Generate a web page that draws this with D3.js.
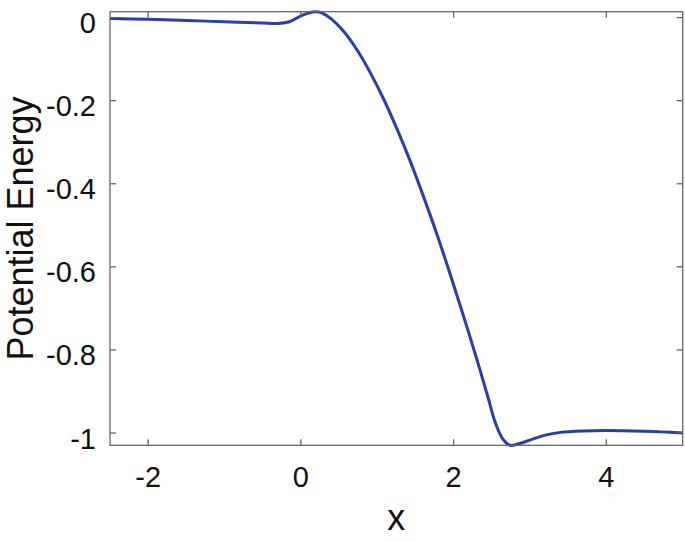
<!DOCTYPE html>
<html>
<head>
<meta charset="UTF-8">
<title>Potential Energy</title>
<script src="https://d3js.org/d3.v7.min.js"></script>
<style>
  body { margin: 0; background: #fff; }
  text { font-family: "Liberation Sans", Arial, Helvetica, sans-serif; fill: #111; }
  .tick-label { font-size: 29px; }
  .axis-label { font-size: 36px; }
</style>
</head>
<body>
<script>
// curve
var xs = [-2.5, -2.0, -1.5, -1.0, -0.5, -0.3, -0.15, 0, 0.1, 0.19, 0.28, 0.39, 0.565, 0.736, 0.91, 1.083, 1.258, 1.43, 1.606, 1.78, 1.95, 2.12, 2.3, 2.45, 2.55, 2.65, 2.74, 2.85, 3.0, 3.2, 3.4, 3.7, 4.0, 4.5, 5.0];
var ys = [-0.002, -0.004, -0.007, -0.010, -0.013, -0.014, -0.010, 0.004, 0.011, 0.0142, 0.011, -0.002, -0.034, -0.078, -0.133, -0.196, -0.268, -0.345, -0.431, -0.521, -0.615, -0.713, -0.820, -0.914, -0.977, -1.016, -1.0296, -1.026, -1.017, -1.005, -0.9985, -0.995, -0.994, -0.996, -1.0];
var xTicks = [-2, 0, 2, 4];
var yTicks = [0, -0.2, -0.4, -0.6, -0.8, -1];
var xDomain = [-2.5, 5];
var yDomain = [-1.0296, 0.0142];

var W = 685, H = 542;
var plotL = 110, plotR = 682.7, plotT = 11.7, plotB = 445.3;

var svg = d3.select("body").append("svg")
    .attr("width", W)
    .attr("height", H);

var x = d3.scaleLinear().domain(xDomain).range([plotL, plotR]);
var y = d3.scaleLinear().domain(yDomain).range([plotB, plotT]);

var pts = xs.map(function(d, i) { return [d, ys[i]]; });

svg.append("path")
    .datum(pts)
    .attr("fill", "none")
    .attr("stroke", "#2a3ea8")
    .attr("stroke-width", 3)
    .attr("d", d3.line()
        .x(function(d) { return x(d[0]); })
        .y(function(d) { return y(d[1]); })
        .curve(d3.curveCatmullRom.alpha(0.5)));

// box with inward ticks on every side
var axisColor = "#666";
var tl = 6;

svg.append("rect")
    .attr("x", plotL).attr("y", plotT)
    .attr("width", plotR - plotL).attr("height", plotB - plotT)
    .attr("fill", "none")
    .attr("stroke", axisColor)
    .attr("stroke-width", 1.3);

var xt = svg.append("g").selectAll("g").data(xTicks).enter().append("g");
xt.append("line")
    .attr("x1", function(d) { return x(d); }).attr("x2", function(d) { return x(d); })
    .attr("y1", plotB).attr("y2", plotB - tl)
    .attr("stroke", axisColor).attr("stroke-width", 1.3);
xt.append("line")
    .attr("x1", function(d) { return x(d); }).attr("x2", function(d) { return x(d); })
    .attr("y1", plotT).attr("y2", plotT + tl)
    .attr("stroke", axisColor).attr("stroke-width", 1.3);
xt.append("text")
    .attr("class", "tick-label")
    .attr("x", function(d) { return x(d); })
    .attr("y", 487)
    .attr("text-anchor", "middle")
    .text(function(d) { return d; });

var yt = svg.append("g").selectAll("g").data(yTicks).enter().append("g");
yt.append("line")
    .attr("x1", plotL).attr("x2", plotL + tl)
    .attr("y1", function(d) { return y(d); }).attr("y2", function(d) { return y(d); })
    .attr("stroke", axisColor).attr("stroke-width", 1.3);
yt.append("line")
    .attr("x1", plotR).attr("x2", plotR - tl)
    .attr("y1", function(d) { return y(d); }).attr("y2", function(d) { return y(d); })
    .attr("stroke", axisColor).attr("stroke-width", 1.3);
yt.append("text")
    .attr("class", "tick-label")
    .attr("x", 96)
    .attr("y", function(d) { return y(d) + 15.5; })
    .attr("text-anchor", "end")
    .text(function(d) { return d; });

svg.append("text")
    .attr("class", "axis-label")
    .attr("x", (plotL + plotR) / 2)
    .attr("y", 530)
    .attr("text-anchor", "middle")
    .text("x");

svg.append("text")
    .attr("class", "axis-label")
    .attr("transform", "translate(33," + ((plotT + plotB) / 2) + ") rotate(-90)")
    .attr("text-anchor", "middle")
    .text("Potential Energy");
</script>
</body>
</html>
